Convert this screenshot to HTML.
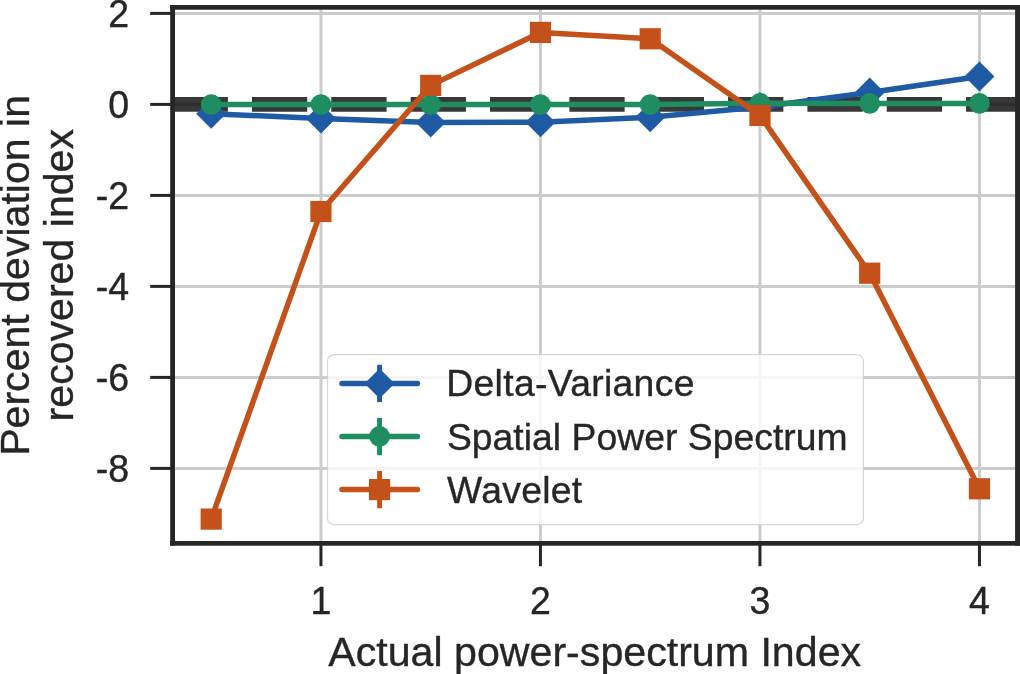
<!DOCTYPE html>
<html lang="en"><head><meta charset="utf-8"><title>Percent deviation in recovered index</title>
<style>html,body{margin:0;padding:0;background:#fff;}body{width:1020px;height:674px;overflow:hidden;}svg{display:block;}text{font-family:"Liberation Sans",Arial,Helvetica,sans-serif;fill:#262626;stroke:#262626;stroke-width:0.35px;}</style></head><body>
<svg width="1020" height="674" viewBox="0 0 1020 674">
<rect width="1020" height="674" fill="#fff"/>
<g stroke="#cccccc" stroke-width="3" fill="none">
<line x1="320.95" y1="7.35" x2="320.95" y2="543.35"/>
<line x1="540.45" y1="7.35" x2="540.45" y2="543.35"/>
<line x1="759.95" y1="7.35" x2="759.95" y2="543.35"/>
<line x1="979.45" y1="7.35" x2="979.45" y2="543.35"/>
<line x1="172.60" y1="13.40" x2="1017.50" y2="13.40"/>
<line x1="172.60" y1="104.40" x2="1017.50" y2="104.40"/>
<line x1="172.60" y1="195.40" x2="1017.50" y2="195.40"/>
<line x1="172.60" y1="286.40" x2="1017.50" y2="286.40"/>
<line x1="172.60" y1="377.40" x2="1017.50" y2="377.40"/>
<line x1="172.60" y1="468.40" x2="1017.50" y2="468.40"/>
</g>
<line x1="172.60" y1="104.35" x2="1017.50" y2="104.35" stroke="#000" stroke-opacity="0.78" stroke-width="14.9" stroke-dasharray="55.3 24.05"/>
<g fill="#1f5ba5" stroke="none">
<polyline points="211.20,113.68 320.95,118.51 430.70,122.60 540.45,122.15 650.20,117.14 759.95,106.99 869.70,92.57 979.45,76.55" fill="none" stroke="#1f5ba5" stroke-width="5.5" stroke-linejoin="round" stroke-linecap="round"/>
<path d="M211.20 98.68L226.20 113.68L211.20 128.68L196.20 113.68Z"/>
<path d="M320.95 103.51L335.95 118.51L320.95 133.50L305.95 118.51Z"/>
<path d="M430.70 107.60L445.70 122.60L430.70 137.60L415.70 122.60Z"/>
<path d="M540.45 107.15L555.45 122.15L540.45 137.15L525.45 122.15Z"/>
<path d="M650.20 102.14L665.20 117.14L650.20 132.14L635.20 117.14Z"/>
<path d="M759.95 91.99L774.95 106.99L759.95 121.99L744.95 106.99Z"/>
<path d="M869.70 77.57L884.70 92.57L869.70 107.57L854.70 92.57Z"/>
<path d="M979.45 61.55L994.45 76.55L979.45 91.55L964.45 76.55Z"/>
</g>
<g fill="#1e8d5f" stroke="none">
<polyline points="211.20,104.58 320.95,104.58 430.70,104.58 540.45,104.58 650.20,104.58 759.95,103.31 869.70,103.40 979.45,103.40" fill="none" stroke="#1e8d5f" stroke-width="5.5" stroke-linejoin="round" stroke-linecap="round"/>
<circle cx="211.20" cy="104.58" r="10.4"/>
<circle cx="320.95" cy="104.58" r="10.4"/>
<circle cx="430.70" cy="104.58" r="10.4"/>
<circle cx="540.45" cy="104.58" r="10.4"/>
<circle cx="650.20" cy="104.58" r="10.4"/>
<circle cx="759.95" cy="103.31" r="10.4"/>
<circle cx="869.70" cy="103.40" r="10.4"/>
<circle cx="979.45" cy="103.40" r="10.4"/>
</g>
<g fill="#c5511a" stroke="none">
<polyline points="211.20,519.09 320.95,211.51 430.70,85.38 540.45,32.42 650.20,38.79 759.95,115.41 869.70,273.21 979.45,488.78" fill="none" stroke="#c5511a" stroke-width="5.5" stroke-linejoin="round" stroke-linecap="round"/>
<rect x="200.60" y="508.49" width="21.20" height="21.20"/>
<rect x="310.35" y="200.91" width="21.20" height="21.20"/>
<rect x="420.10" y="74.78" width="21.20" height="21.20"/>
<rect x="529.85" y="21.82" width="21.20" height="21.20"/>
<rect x="639.60" y="28.19" width="21.20" height="21.20"/>
<rect x="749.35" y="104.81" width="21.20" height="21.20"/>
<rect x="859.10" y="262.61" width="21.20" height="21.20"/>
<rect x="968.85" y="478.18" width="21.20" height="21.20"/>
</g>
<rect x="327.5" y="354.5" width="535.9" height="170.0" rx="6.5" ry="6.5" fill="#fff" fill-opacity="0.8" stroke="#cccccc" stroke-opacity="0.8" stroke-width="1.25"/>
<g fill="#1f5ba5" stroke="none">
<line x1="342.0" y1="383.40" x2="417.4" y2="383.40" stroke="#1f5ba5" stroke-width="5.5" stroke-linecap="round"/>
<line x1="379.55" y1="364.80" x2="379.55" y2="402.10" stroke="#1f5ba5" stroke-width="4.9"/>
<path d="M379.55 368.40L394.55 383.40L379.55 398.40L364.55 383.40Z"/>
</g>
<text x="446.3" y="396.40" font-size="37.3" letter-spacing="0.32">Delta-Variance</text>
<g fill="#1e8d5f" stroke="none">
<line x1="342.0" y1="436.50" x2="417.4" y2="436.50" stroke="#1e8d5f" stroke-width="5.5" stroke-linecap="round"/>
<line x1="379.55" y1="417.90" x2="379.55" y2="455.20" stroke="#1e8d5f" stroke-width="4.9"/>
<circle cx="379.55" cy="436.50" r="10.4"/>
</g>
<text x="446.9" y="449.80" font-size="37.3" letter-spacing="0.03">Spatial Power Spectrum</text>
<g fill="#c5511a" stroke="none">
<line x1="342.0" y1="489.60" x2="417.4" y2="489.60" stroke="#c5511a" stroke-width="5.5" stroke-linecap="round"/>
<line x1="379.55" y1="471.00" x2="379.55" y2="508.30" stroke="#c5511a" stroke-width="4.9"/>
<rect x="368.95" y="479.00" width="21.20" height="21.20"/>
</g>
<text x="447.1" y="503.00" font-size="37.3" letter-spacing="0.3">Wavelet</text>
<g fill="#262626">
<rect x="170.2" y="5.0" width="4.8" height="540.7"/>
<rect x="1015.1" y="5.0" width="4.9" height="540.7"/>
<rect x="170.2" y="5.0" width="849.8" height="4.7"/>
<rect x="170.2" y="541.0" width="849.8" height="4.7"/>
</g>
<g stroke="#262626" stroke-width="3">
<line x1="320.95" y1="543.35" x2="320.95" y2="566.20"/>
<line x1="540.45" y1="543.35" x2="540.45" y2="566.20"/>
<line x1="759.95" y1="543.35" x2="759.95" y2="566.20"/>
<line x1="979.45" y1="543.35" x2="979.45" y2="566.20"/>
<line x1="150.20" y1="13.40" x2="172.60" y2="13.40"/>
<line x1="150.20" y1="104.40" x2="172.60" y2="104.40"/>
<line x1="150.20" y1="195.40" x2="172.60" y2="195.40"/>
<line x1="150.20" y1="286.40" x2="172.60" y2="286.40"/>
<line x1="150.20" y1="377.40" x2="172.60" y2="377.40"/>
<line x1="150.20" y1="468.40" x2="172.60" y2="468.40"/>
</g>
<text transform="translate(320.95 614.4) scale(1 1.03)" font-size="37.5" text-anchor="middle">1</text>
<text transform="translate(540.45 614.4) scale(1 1.03)" font-size="37.5" text-anchor="middle">2</text>
<text transform="translate(759.95 614.4) scale(1 1.03)" font-size="37.5" text-anchor="middle">3</text>
<text transform="translate(979.45 614.4) scale(1 1.03)" font-size="37.5" text-anchor="middle">4</text>
<text transform="translate(129.1 27.30) scale(1 1.03)" font-size="37.5" text-anchor="end">2</text>
<text transform="translate(129.1 118.30) scale(1 1.03)" font-size="37.5" text-anchor="end">0</text>
<text transform="translate(129.1 209.30) scale(1 1.03)" font-size="37.5" text-anchor="end">-2</text>
<text transform="translate(129.1 300.30) scale(1 1.03)" font-size="37.5" text-anchor="end">-4</text>
<text transform="translate(129.1 391.30) scale(1 1.03)" font-size="37.5" text-anchor="end">-6</text>
<text transform="translate(129.1 482.30) scale(1 1.03)" font-size="37.5" text-anchor="end">-8</text>
<text x="594.7" y="666.3" font-size="41.15" text-anchor="middle">Actual power-spectrum Index</text>
<text transform="translate(29.4 275.4) rotate(-90)" font-size="41.1" text-anchor="middle">Percent deviation in</text>
<text transform="translate(72.6 275.2) rotate(-90)" font-size="41.1" text-anchor="middle">recovered index</text>
</svg></body></html>
